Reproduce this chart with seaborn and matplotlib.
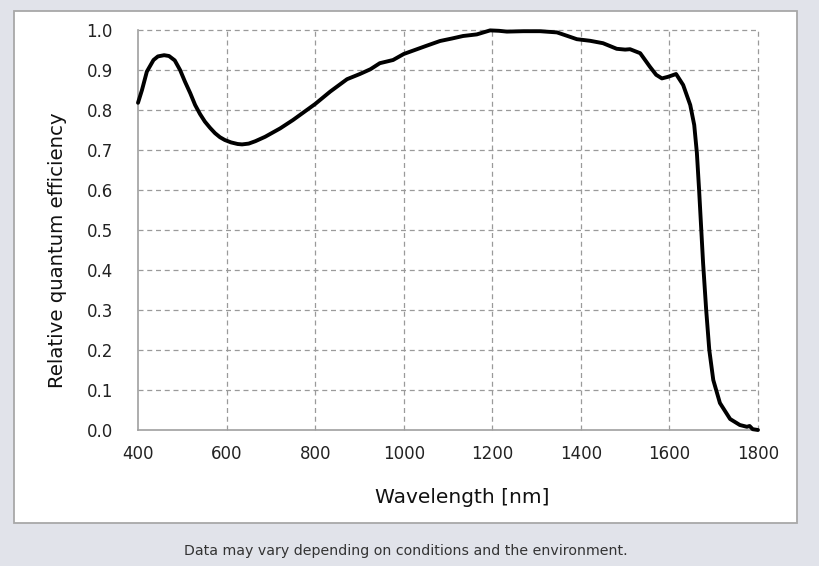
import matplotlib
matplotlib.use("Agg")
import matplotlib.pyplot as plt
from matplotlib.patches import Rectangle
import pandas as pd
import seaborn as sns

# ── Data ─────────────────────────────────────────────────────────
wavelength = [400, 409, 420, 435, 445, 459, 470, 483, 495, 506, 518, 529,
              540, 551, 563, 574, 585, 596, 610, 625, 635, 650, 665, 687,
              721, 750, 775, 800, 834, 872, 901, 925, 946, 976, 1000,
              1025, 1050, 1082, 1110, 1134, 1165, 1195, 1215, 1233, 1270,
              1308, 1346, 1370, 1391, 1421, 1450, 1481, 1500, 1511, 1534,
              1556, 1570, 1583, 1597, 1615, 1631, 1647, 1656, 1662, 1667,
              1676, 1683, 1690, 1699, 1714, 1737, 1759, 1775, 1781, 1788,
              1800]
rel_qe = [0.818, 0.850, 0.896, 0.925, 0.934, 0.937, 0.935, 0.924, 0.900,
          0.871, 0.842, 0.8125, 0.790, 0.771, 0.755, 0.742, 0.732, 0.725,
          0.719, 0.715, 0.714, 0.716, 0.722, 0.733, 0.754, 0.775, 0.795,
          0.815, 0.846, 0.877, 0.890, 0.902, 0.917, 0.925, 0.940, 0.950,
          0.960, 0.9725, 0.979, 0.985, 0.989, 0.999, 0.998, 0.996, 0.997,
          0.997, 0.994, 0.985, 0.977, 0.973, 0.967, 0.953, 0.951, 0.952,
          0.942, 0.908, 0.888, 0.879, 0.883, 0.890, 0.8625, 0.8125, 0.7625,
          0.6925, 0.600, 0.4175, 0.300, 0.200, 0.125, 0.0675, 0.0275,
          0.0125, 0.008, 0.010, 0.002, 0.0]

x_ticks = [400, 600, 800, 1000, 1200, 1400, 1600, 1800]
y_ticks = [0.0, 0.1, 0.2, 0.3, 0.4, 0.5, 0.6, 0.7, 0.8, 0.9, 1.0]

x_label = "Wavelength [nm]"
y_label = "Relative quantum efficiency"
caption = "Data may vary depending on conditions and the environment."

df = pd.DataFrame({"wavelength": wavelength, "qe": rel_qe})

# ── Figure ───────────────────────────────────────────────────────
sns.set_style("white")
plt.rcParams["font.family"] = ["DejaVu Sans"]

fig = plt.figure(figsize=(8.2, 5.66), dpi=100)
fig.patch.set_facecolor("#e1e3ea")

W, H = 820, 566
fig.patches.append(Rectangle((14 / W, 1 - 523 / H), (797 - 14) / W, (523 - 11) / H,
                             transform=fig.transFigure, facecolor="white",
                             edgecolor="#a8a8a8", linewidth=1.3, zorder=-5))

ax = fig.add_axes([138 / W, 1 - 430 / H, (758 - 138) / W, (430 - 30) / H])
ax.set_zorder(2)
ax.set_facecolor("white")

grid_kw = dict(color="#9a9a9a", linestyle=(0, (4, 3)), linewidth=0.9, zorder=1,
               clip_on=False)
for xv in x_ticks[1:]:
    ax.axvline(xv, **grid_kw)
for yv in y_ticks[1:]:
    ax.axhline(yv, **grid_kw)

sns.lineplot(data=df, x="wavelength", y="qe", ax=ax, color="black",
             linewidth=2.8, zorder=3, clip_on=False)

ax.set_xlim(400, 1800)
ax.set_ylim(0, 1.0)
ax.set_xticks(x_ticks)
ax.set_yticks(y_ticks)
ax.set_xticklabels([str(v) for v in x_ticks], fontsize=12, color="#222222")
ax.set_yticklabels([f"{v:.1f}" for v in y_ticks], fontsize=12, color="#222222")
ax.tick_params(axis="both", direction="out", length=5, width=1, color="#a0a0a0",
               pad=6)
ax.tick_params(axis="y", pad=13)

for side in ["top", "right"]:
    ax.spines[side].set_visible(False)
for side in ["left", "bottom"]:
    ax.spines[side].set_color("#a0a0a0")
    ax.spines[side].set_linewidth(1.2)

ax.set_xlabel(x_label, fontsize=14.5, color="#111111")
ax.set_ylabel(y_label, fontsize=14.2, color="#111111")
ax.xaxis.set_label_coords(0.523, -0.146)
ax.yaxis.set_label_coords(-0.115, 0.45)

fig.text(406 / W, 1 - 551 / H, caption, ha="center", va="center",
         fontsize=10.2, color="#333333")

fig.savefig("out.png", dpi=100, facecolor=fig.get_facecolor())
